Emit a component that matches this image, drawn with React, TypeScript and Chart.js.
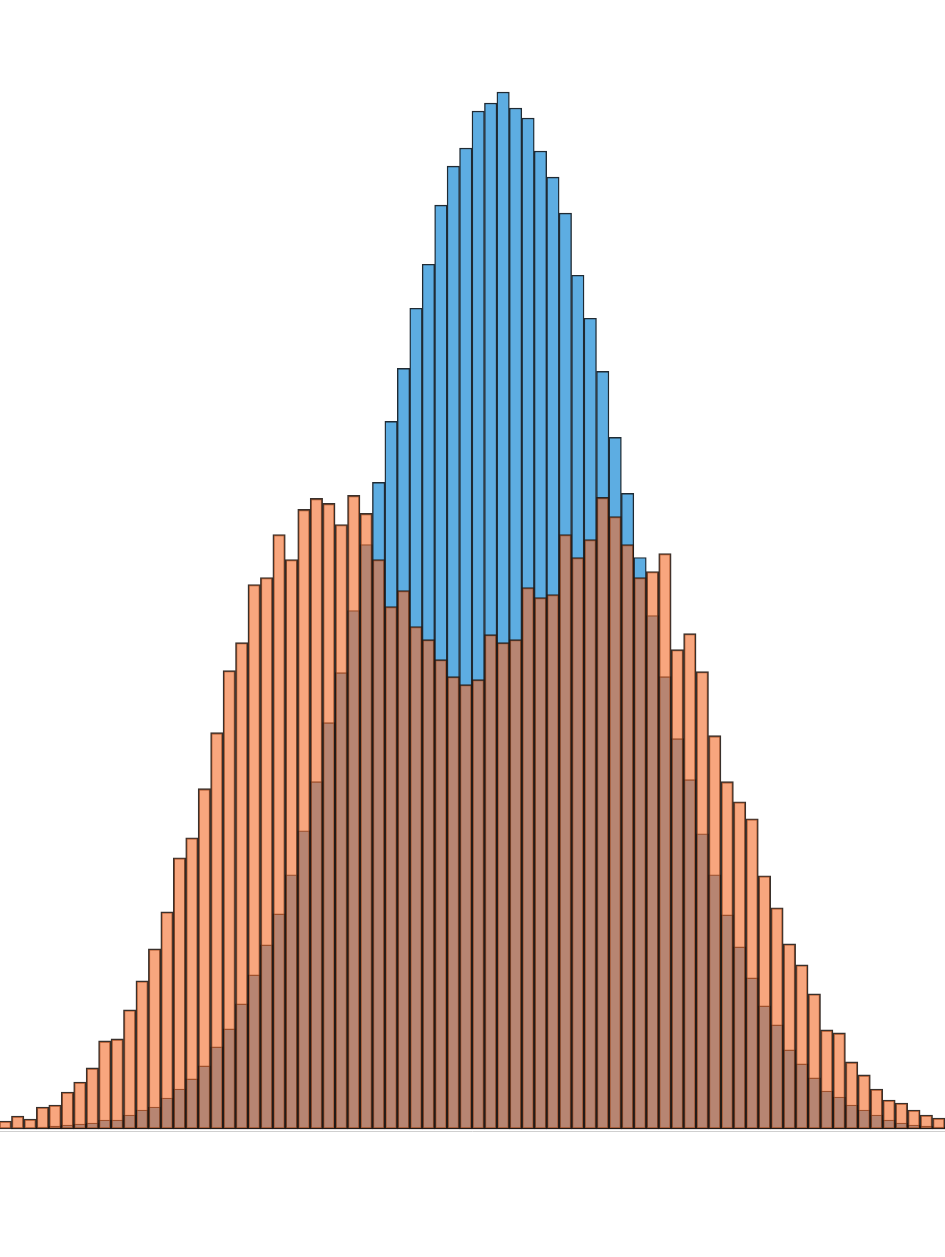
import React, { useEffect, useRef } from "react";
import Chart from "chart.js/auto";

// bin counts (one bar per bin, 76 bins)
const bins = Array.from({ length: 76 }, (_, i) => String(i + 1));

const blueCounts = [
  0, 1, 1, 2, 3, 4, 5, 6, 9, 9, 14, 19, 22, 31, 40, 50, 63, 82, 100, 125,
  154, 184, 215, 254, 298, 347, 406, 456, 518, 584, 646, 707, 760, 820, 864,
  923, 962, 980, 1017, 1025, 1036, 1020, 1010, 977, 951, 915, 853, 810, 757,
  691, 635, 571, 513, 452, 390, 349, 295, 254, 214, 182, 151, 123, 104, 79,
  65, 51, 38, 32, 24, 19, 14, 9, 6, 4, 3, 2,
];

const orangeCounts = [
  8, 13, 10, 22, 24, 37, 47, 61, 88, 90, 119, 148, 180, 217, 271, 291, 340,
  396, 458, 486, 544, 551, 594, 569, 619, 630, 625, 604, 633, 615, 569, 522,
  538, 502, 489, 469, 452, 444, 449, 494, 486, 489, 541, 531, 534, 594, 571,
  589, 631, 612, 584, 551, 557, 575, 479, 495, 457, 393, 347, 327, 310, 253,
  221, 185, 164, 135, 99, 96, 67, 54, 40, 29, 26, 19, 14, 11,
];

const App: React.FC = () => {
  const chartRef = useRef<HTMLCanvasElement>(null);

  useEffect(() => {
    const ctx = chartRef.current;
    if (!ctx) return;

    const chart = new Chart(ctx, {
      type: "bar",
      data: {
        labels: bins,
        datasets: [
          {
            label: "B",
            data: orangeCounts,
            backgroundColor: "rgba(243, 107, 40, 0.6)",
            borderColor: "rgba(35, 25, 20, 0.9)",
            borderWidth: 1.4,
            borderSkipped: false,
            grouped: false,
            barPercentage: 1,
            categoryPercentage: 1,
            order: 0,
          },
          {
            label: "A",
            data: blueCounts,
            backgroundColor: "#5DADE2",
            borderColor: "#1f2a33",
            borderWidth: 1.4,
            borderSkipped: false,
            grouped: false,
            barPercentage: 1,
            categoryPercentage: 1,
            order: 1,
          },
        ],
      },
      options: {
        animation: false,
        responsive: true,
        maintainAspectRatio: false,
        layout: { padding: { top: 0, bottom: 118, left: 0, right: 0 } },
        plugins: {
          legend: { display: false },
          tooltip: { enabled: false },
        },
        scales: {
          x: {
            grid: { display: false },
            ticks: { display: false },
            border: { display: true, color: "#cfcfcf", width: 1 },
          },
          y: {
            display: false,
            min: -2,
            max: 1128,
          },
        },
      },
    });

    return () => {
      chart.destroy();
    };
  }, []);

  return (
    <div
      style={{
        position: "fixed",
        left: -1,
        top: 0,
        width: 946,
        height: 1257,
        background: "#fff",
      }}
    >
      <canvas ref={chartRef}></canvas>
    </div>
  );
};

export default App;
